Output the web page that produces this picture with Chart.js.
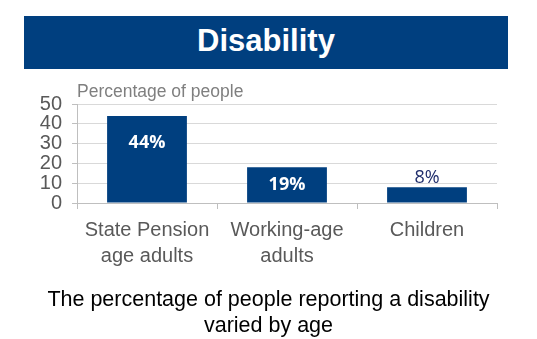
<!DOCTYPE html>
<html>
<head>
<meta charset="utf-8">
<title>Disability</title>
<script src="https://cdn.jsdelivr.net/npm/chart.js@4"></script>
<style>
  body {
    margin: 0;
    width: 537px;
    height: 339px;
    background: #ffffff;
    font-family: "Liberation Sans", Arial, sans-serif;
    position: relative;
    overflow: hidden;
  }
  .header {
    position: absolute;
    left: 24px;
    top: 16px;
    width: 484px;
    height: 53px;
    background: #003f7f;
    color: #ffffff;
    font-weight: bold;
    font-size: 31px;
    line-height: 49px;
    text-align: center;
  }
  #wrap {
    position: absolute;
    left: 0;
    top: 0;
    width: 537px;
    height: 339px;
  }
  .caption {
    position: absolute;
    left: 0;
    top: 286px;
    width: 537px;
    text-align: center;
    font-size: 21.5px;
    line-height: 26px;
    color: #000000;
  }
</style>
</head>
<body>

<div id="wrap"><canvas id="chart"></canvas></div>
<div class="header">Disability</div>
<div class="caption">The percentage of people reporting a disability<br>varied by age</div>

<script>
// ─────────────────────────────────────────────
// DATA
// ─────────────────────────────────────────────
const categories = [["State Pension", "age adults"], ["Working-age", "adults"], ["Children"]];
const values = [44, 18, 8];
const valueLabels = ["44%", "19%", "8%"];
const yTicks = [0, 10, 20, 30, 40, 50];

const navy = "#003f7f";
const grey = "#595959";

// labels on the bars + the small axis heading
const barLabels = {
  id: "barLabels",
  afterDatasetsDraw(chart) {
    const ctx = chart.ctx;
    const meta = chart.getDatasetMeta(0);
    ctx.save();
    ctx.textAlign = "center";
    ctx.textBaseline = "middle";
    meta.data.forEach((bar, i) => {
      const h = bar.base - bar.y;
      if (h > 25) {
        ctx.fillStyle = "#ffffff";
        ctx.font = "bold 18px 'Open Sans', sans-serif";
        ctx.fillText(valueLabels[i], bar.x, bar.y + Math.min(27, h / 2));
      } else {
        ctx.fillStyle = "#1f2d6b";
        ctx.font = "18px 'Open Sans', sans-serif";
        ctx.fillText(valueLabels[i], bar.x, bar.y - 9);
      }
    });
    ctx.fillStyle = "#7f7f7f";
    ctx.font = "17.5px 'Liberation Sans', Arial, sans-serif";
    ctx.textAlign = "left";
    ctx.textBaseline = "alphabetic";
    ctx.fillText("Percentage of people", chart.chartArea.left, chart.chartArea.top - 7);
    ctx.restore();
  }
};

new Chart(document.getElementById("chart"), {
  type: "bar",
  data: {
    labels: categories,
    datasets: [{
      data: values,
      backgroundColor: navy,
      borderWidth: 0,
      barPercentage: 0.57,
      categoryPercentage: 1
    }]
  },
  options: {
    responsive: true,
    maintainAspectRatio: false,
    animation: false,
    events: [],
    layout: { padding: { left: 0, right: 40, top: 104, bottom: 56 } },
    plugins: {
      legend: { display: false },
      tooltip: { enabled: false }
    },
    scales: {
      x: {
        grid: {
          drawOnChartArea: false,
          drawTicks: true,
          tickLength: 6,
          color: "#bfbfbf",
          offset: true
        },
        border: { color: "#bfbfbf" },
        ticks: {
          color: grey,
          padding: 8,
          maxRotation: 0,
          autoSkip: false,
          font: { family: "'Liberation Sans', Arial, sans-serif", size: 20, lineHeight: 1.3 }
        },
        afterFit: (s) => { s.height = 80; }
      },
      y: {
        min: 0,
        max: 50,
        afterBuildTicks: (s) => { s.ticks = yTicks.map(v => ({ value: v })); },
        grid: {
          color: "#d9d9d9",
          tickColor: "#bfbfbf",
          tickLength: 5
        },
        border: { color: "#bfbfbf" },
        ticks: {
          color: grey,
          padding: 10,
          autoSkip: false,
          font: { family: "'Liberation Sans', Arial, sans-serif", size: 20, lineHeight: 1 }
        },
        afterFit: (s) => { s.width = 77; }
      }
    }
  },
  plugins: [barLabels]
});
</script>

</body>
</html>
